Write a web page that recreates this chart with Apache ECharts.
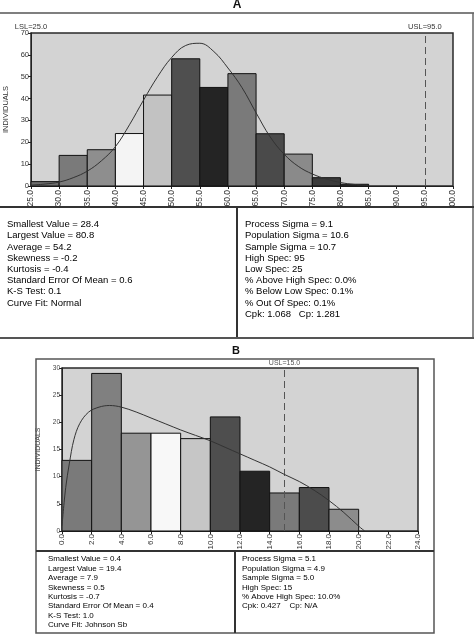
<!DOCTYPE html>
<html>
<head>
<meta charset="utf-8">
<script src="https://cdn.jsdelivr.net/npm/echarts@6/dist/echarts.min.js"></script>
<style>
  html, body { margin: 0; padding: 0; background: #fff; }
  #chart { width: 474px; height: 634px; }
</style>
</head>
<body>
<div id="chart"></div>
<script>
  // panel A - histogram, normal fit
  var edgesA = [25, 30, 35, 40, 45, 50, 55, 60, 65, 70, 75, 80, 85];
  var countsA = [2, 14, 16.6, 24, 41.6, 58.2, 45.1, 51.4, 23.9, 14.6, 3.8, 0.8];
  var curveAx = [25, 27.5, 30, 32.5, 35, 37.5, 40, 42.5, 45, 47.5, 50, 52.5, 55, 57.5, 60, 62.5, 65, 67.5, 70, 72.5, 75, 77.5, 80, 82.5, 85];
  var curveAy = [0.4, 0.9, 1.8, 3.8, 6.8, 11.5, 18, 28, 39.3, 50, 58.8, 64.3, 65.3, 61.5, 54, 45, 33.5, 22.5, 14.5, 9, 5.5, 3.2, 1.6, 0.7, 0.3];
  var statsA1 = ['Smallest Value = 28.4', 'Largest Value = 80.8', 'Average = 54.2', 'Skewness = -0.2',
    'Kurtosis = -0.4', 'Standard Error Of Mean = 0.6', 'K-S Test: 0.1', 'Curve Fit: Normal'];
  var statsA2 = ['Process Sigma = 9.1', 'Population Sigma = 10.6', 'Sample Sigma = 10.7', 'High Spec: 95',
    'Low Spec: 25', '% Above High Spec: 0.0%', '% Below Low Spec: 0.1%', '% Out Of Spec: 0.1%', 'Cpk: 1.068   Cp: 1.281'];

  // panel B - histogram, Johnson Sb fit
  var edgesB = [0, 2, 4, 6, 8, 10, 12, 14, 16, 18, 20];
  var countsB = [13, 29, 18, 18, 17, 21, 11, 7, 8, 4];
  var curveBx = [0, 0.25, 0.5, 0.8, 1.2, 1.8, 2.5, 3.2, 4, 5, 6, 7, 8, 9, 10, 11, 12, 13, 14, 15, 16, 17, 18, 19, 20, 20.4];
  var curveBy = [1, 8, 12.5, 16.8, 19.8, 21.9, 22.8, 23.1, 22.8, 21.9, 20.8, 19.7, 18.6, 17.6, 16.6, 15.4, 14.2, 13, 11.8, 10.4, 9.1, 7.5, 5.6, 3.4, 0.9, 0];
  var statsB1 = ['Smallest Value = 0.4', 'Largest Value = 19.4', 'Average = 7.9', 'Skewness = 0.5',
    'Kurtosis = -0.7', 'Standard Error Of Mean = 0.4', 'K-S Test: 1.0', 'Curve Fit: Johnson Sb'];
  var statsB2 = ['Process Sigma = 5.1', 'Population Sigma = 4.9', 'Sample Sigma = 5.0', 'High Spec: 15',
    '% Above High Spec: 10.0%', 'Cpk: 0.427    Cp: N/A'];

  var fillsA = ['#6e6e6e', '#7a7a7a', '#8e8e8e', '#f4f4f4', '#c2c2c2', '#4f4f4f', '#242424', '#7a7a7a', '#4a4a4a', '#8a8a8a', '#3a3a3a', '#303030'];
  var fillsB = ['#7a7a7a', '#808080', '#959595', '#f8f8f8', '#c6c6c6', '#4e4e4e', '#242424', '#7a7a7a', '#4c4c4c', '#8c8c8c'];

  var font = 'Liberation Sans, Arial, sans-serif';

  function binData(edges, counts) {
    var out = [];
    for (var i = 0; i < counts.length; i++) {
      out.push([edges[i], edges[i + 1], counts[i]]);
    }
    return out;
  }
  function pairs(xs, ys) {
    return xs.map(function (x, i) { return [x, ys[i]]; });
  }
  function histRender(fills) {
    return function (params, api) {
      var p0 = api.coord([api.value(0), api.value(2)]);
      var p1 = api.coord([api.value(1), 0]);
      return {
        type: 'rect',
        shape: { x: p0[0], y: p0[1], width: p1[0] - p0[0], height: p1[1] - p0[1] },
        style: { fill: fills[params.dataIndex], stroke: '#111', lineWidth: 1 }
      };
    };
  }
  function textBlock(x, y, lines, size, lh) {
    return {
      type: 'text', x: x, y: y, z: 20,
      style: { text: lines.join('\n'), font: size + 'px ' + font, fill: '#000', lineHeight: lh }
    };
  }
  function line(x1, y1, x2, y2, w, c) {
    return { type: 'line', z: 21, shape: { x1: x1, y1: y1, x2: x2, y2: y2 }, style: { stroke: c || '#333', lineWidth: w || 1 } };
  }

  var chart = echarts.init(document.getElementById('chart'));
  var option = {
    animation: false,
    backgroundColor: '#fff',
    grid: [
      { left: 31, top: 33, right: 21, bottom: 448, outerBoundsMode: 'none', containLabel: false,
        show: true, backgroundColor: '#d3d3d3', borderColor: '#2a2a2a', borderWidth: 1.5 },
      { left: 62, top: 368, right: 56, bottom: 103, outerBoundsMode: 'none', containLabel: false,
        show: true, backgroundColor: '#d3d3d3', borderColor: '#2a2a2a', borderWidth: 1.5 }
    ],
    xAxis: [
      {
        gridIndex: 0, type: 'value', min: 25, max: 100, interval: 5,
        axisLine: { lineStyle: { color: '#222' } },
        axisTick: { length: 3, lineStyle: { color: '#222' } },
        splitLine: { show: false },
        axisLabel: { rotate: 90, fontSize: 8.5, fontFamily: font, color: '#333', margin: 4,
          formatter: function (v) { return v.toFixed(1); } }
      },
      {
        gridIndex: 1, type: 'value', min: 0, max: 24, interval: 2,
        axisLine: { lineStyle: { color: '#222' } },
        axisTick: { length: 3, lineStyle: { color: '#222' } },
        splitLine: { show: false },
        axisLabel: { rotate: 90, fontSize: 8, fontFamily: font, color: '#333', margin: 3,
          formatter: function (v) { return v.toFixed(1); } }
      }
    ],
    yAxis: [
      {
        gridIndex: 0, type: 'value', min: 0, max: 70, interval: 10,
        name: 'INDIVIDUALS', nameLocation: 'middle', nameGap: 16.5, nameRotate: 90,
        nameTextStyle: { fontSize: 7.5, fontFamily: font, color: '#333' },
        axisLine: { show: true, lineStyle: { color: '#222' } },
        axisTick: { show: true, length: 3, lineStyle: { color: '#222' } },
        splitLine: { show: false },
        axisLabel: { fontSize: 7.5, fontFamily: font, color: '#333', margin: 2 }
      },
      {
        gridIndex: 1, type: 'value', min: 0, max: 30, interval: 5,
        name: 'INDIVIDUALS', nameLocation: 'middle', nameGap: 13, nameRotate: 90,
        nameTextStyle: { fontSize: 7, fontFamily: font, color: '#444' },
        axisLine: { show: true, lineStyle: { color: '#222' } },
        axisTick: { show: true, length: 3, lineStyle: { color: '#222' } },
        splitLine: { show: false },
        axisLabel: { fontSize: 6.5, fontFamily: font, color: '#444', margin: 2 }
      }
    ],
    series: [
      {
        type: 'custom', xAxisIndex: 0, yAxisIndex: 0,
        data: binData(edgesA, countsA), encode: { x: [0, 1], y: 2 },
        renderItem: histRender(fillsA),
        markLine: {
          silent: true, symbol: 'none',
          data: [
            { xAxis: 95, lineStyle: { color: '#555', type: [7, 4], width: 1 },
              label: { formatter: 'USL=95.0', position: 'end', distance: 2, fontSize: 7.5, fontFamily: font, color: '#333' } },
            { xAxis: 25, lineStyle: { color: 'rgba(0,0,0,0)' },
              label: { formatter: 'LSL=25.0', position: 'end', distance: 2, fontSize: 7.5, fontFamily: font, color: '#333' } }
          ]
        }
      },
      {
        type: 'line', xAxisIndex: 0, yAxisIndex: 0, smooth: 0.4, showSymbol: false,
        data: pairs(curveAx, curveAy), lineStyle: { color: '#333', width: 1 }, z: 5
      },
      {
        type: 'custom', xAxisIndex: 1, yAxisIndex: 1,
        data: binData(edgesB, countsB), encode: { x: [0, 1], y: 2 },
        renderItem: histRender(fillsB),
        markLine: {
          silent: true, symbol: 'none',
          data: [
            { xAxis: 15, lineStyle: { color: '#555', type: [7, 4], width: 1 },
              label: { formatter: 'USL=15.0', position: 'end', distance: 1, fontSize: 7, fontFamily: font, color: '#555' } }
          ]
        }
      },
      {
        type: 'line', xAxisIndex: 1, yAxisIndex: 1, smooth: 0.35, showSymbol: false,
        data: pairs(curveBx, curveBy), lineStyle: { color: '#333', width: 1 }, z: 5
      }
    ],
    graphic: [
      { type: 'text', x: 237, y: 5, z: 20, style: { text: 'A', font: 'bold 12px ' + font, fill: '#111', align: 'center', verticalAlign: 'middle' } },
      { type: 'text', x: 236, y: 351, z: 20, style: { text: 'B', font: 'bold 11px ' + font, fill: '#111', align: 'center', verticalAlign: 'middle' } },
      // panel A frames
      { type: 'rect', z: 19, shape: { x: 0, y: 207, width: 474, height: 131 }, style: { fill: '#fff' } },
      line(0, 13, 474, 13, 1.5, '#555'),
      line(473, 13, 473, 338, 1.5, '#666'),
      line(0, 207, 474, 207, 2, '#333'),
      line(237, 207, 237, 338, 2, '#333'),
      line(0, 338, 474, 338, 2, '#555'),
      textBlock(7, 219, statsA1, 9.5, 11.2),
      textBlock(245, 219, statsA2, 9.5, 11.2),
      // panel B frames
      { type: 'rect', z: 21, shape: { x: 36, y: 359, width: 398, height: 274 }, style: { fill: 'none', stroke: '#555', lineWidth: 1.5 } },
      line(36, 551, 434, 551, 2, '#333'),
      line(235, 551, 235, 633, 2, '#333'),
      textBlock(48, 554.5, statsB1, 8, 9.4),
      textBlock(242, 554.5, statsB2, 8, 9.4)
    ]
  };
  chart.setOption(option);
</script>
</body>
</html>
